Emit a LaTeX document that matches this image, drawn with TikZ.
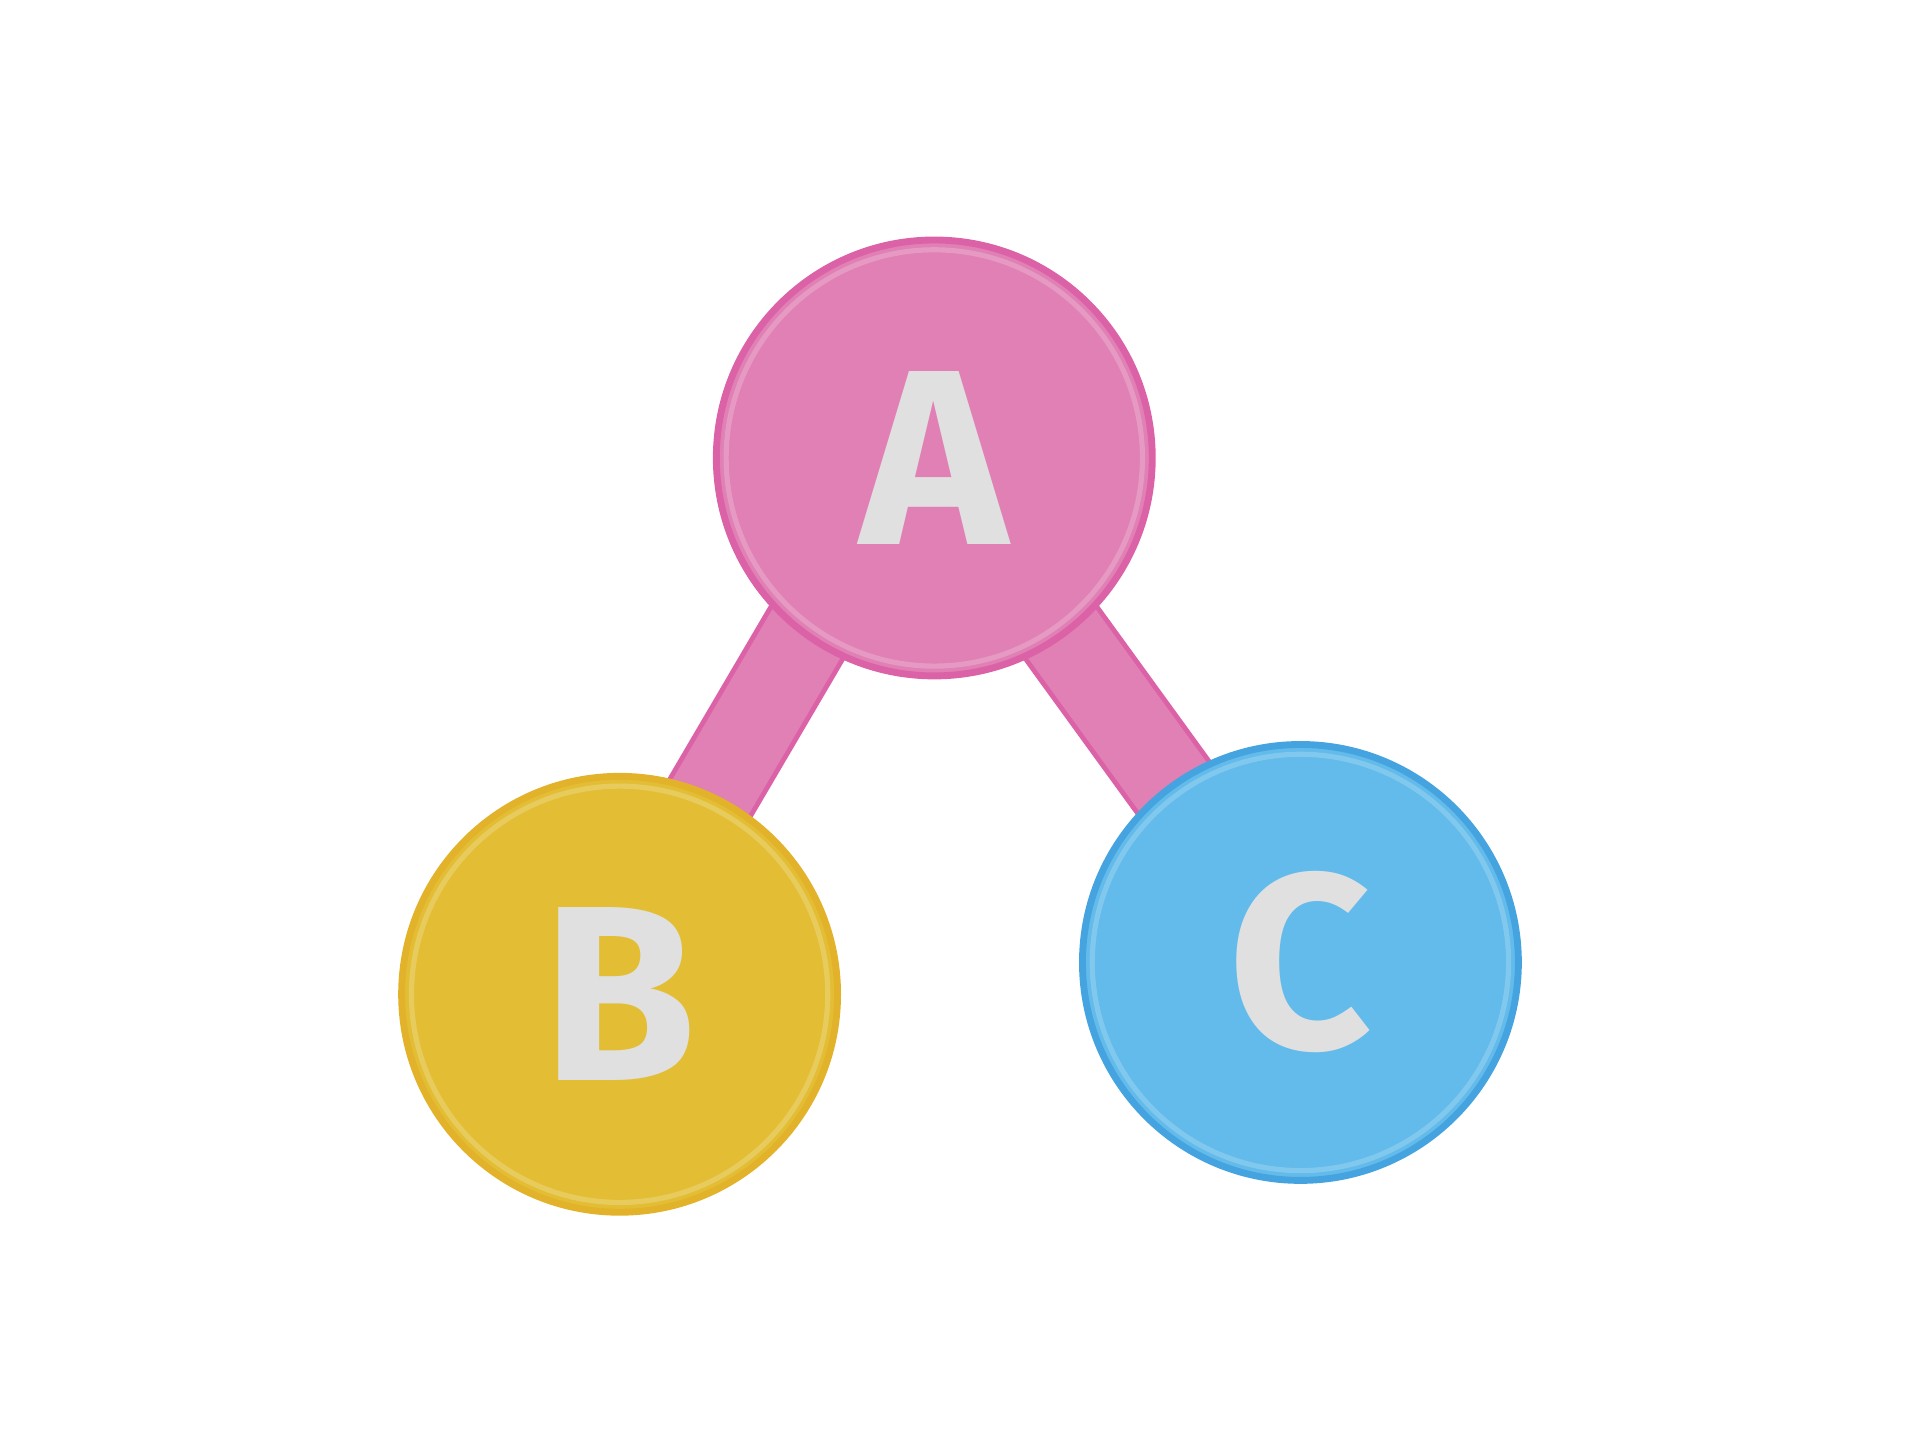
\documentclass[tikz,border=0pt]{standalone}
\usepackage{fontspec}
\setsansfont{Fira Sans}
\usepackage{tikz}
\usetikzlibrary{positioning,calc,backgrounds}
\definecolor{pinkfill}{HTML}{E080B4}
\definecolor{pinkrim}{HTML}{DC62A8}
\definecolor{yellowfill}{HTML}{E3BE35}
\definecolor{yellowrim}{HTML}{E2B22A}
\definecolor{bluefill}{HTML}{62BBEA}
\definecolor{bluerim}{HTML}{45A4E0}
\definecolor{lettergrey}{HTML}{E0E0E0}
\tikzset{
    disc/.style = {
        draw,
        shape=circle,
        minimum size=3.56cm,
        inner sep=0pt,
        line width=1.6pt,
        text=lettergrey,
        font=\sffamily\bfseries\fontsize{58}{58}\selectfont
    },
    bar/.style = {
        draw=pinkrim,
        line width=0.04cm,
        double=pinkfill,
        double distance=0.68cm
    },
    shine/.style = {
        draw=white,
        opacity=0.2,
        line width=1.2pt
    },
}

\begin{document}
\begin{tikzpicture}
    \useasboundingbox (0,0) rectangle (15.68,11.86);

    \node[disc, fill=pinkfill, draw=pinkrim] (A) at (7.63,8.12) {A};
    \node[disc, fill=yellowfill, draw=yellowrim] (B) at (5.06,3.74) {B};
    \node[disc, fill=bluefill, draw=bluerim] (C) at (10.62,4.00) {C};

    % highlight ring just inside each rim
    \foreach \n in {A,B,C}
        \path[shine] (\n.center) circle (1.70);

    \begin{scope}[on background layer]
        \path[bar, transform canvas={shift={(-0.15,0.09)}}] (A.center) -- (B.center);
        \path[bar] (A.center) -- (C.center);
    \end{scope}
\end{tikzpicture}
\end{document}
